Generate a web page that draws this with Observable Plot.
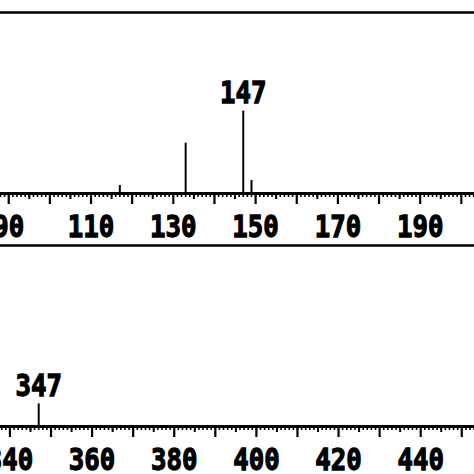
<!DOCTYPE html>
<html>
<head>
<meta charset="utf-8">
<script src="https://cdn.jsdelivr.net/npm/d3@7"></script>
<script src="https://cdn.jsdelivr.net/npm/@observablehq/plot@0.6"></script>
<style>
  html, body { margin: 0; padding: 0; background: #fff; overflow: hidden; width: 474px; height: 474px; }
  #chart { position: relative; width: 474px; height: 474px; }
  #chart svg { position: absolute; left: 0; display: block; overflow: visible; background: transparent !important; }
</style>
</head>
<body>
<div id="chart"></div>
<script>
// ---- data (m/z and relative intensity, % of frame height) ----
const topMz = [117, 133, 147, 149];
const topIntensity = [4.4, 27.8, 45.5, 7.2];
const topPeakLabels = [147];

const bottomMz = [347];
const bottomIntensity = [12.5];
const bottomPeakLabels = [347];

// ---- axis ranges and tick labels ----
const topDomain = [88.0, 203.2];
const bottomDomain = [337.7, 453.1];
const topTickLabels = [90, 110, 130, 150, 170, 190];
const bottomTickLabels = [340, 360, 380, 400, 420, 440];

const FONT = "'DejaVu Sans Mono', 'Liberation Mono', monospace";
const CHAR_W = 15.5;

function panel(domain, mz, intensity, peakLabels, tickLabels, marginTop, marginBottom) {
  const lo = Math.floor(domain[0]), hi = Math.ceil(domain[1]);
  const ticks1 = d3.range(lo, hi + 1, 1);
  const ticks5 = ticks1.filter(d => d % 5 === 0 && d % 10 !== 0);
  const ticks10 = ticks1.filter(d => d % 10 === 0);
  const peaks = mz.map((m, i) => ({mz: m, intensity: intensity[i]}));
  const labeled = peaks.filter(p => peakLabels.includes(p.mz));
  const blank = () => "";
  return Plot.plot({
    width: 474,
    height: 237,
    marginLeft: 0,
    marginRight: 0,
    marginTop,
    marginBottom,
    style: {fontFamily: FONT, fontWeight: "bold", background: "transparent", color: "#000", overflow: "visible"},
    x: {domain},
    y: {domain: [0, 100], axis: null},
    marks: [
      Plot.ruleY([100], {stroke: "#000", strokeWidth: 2.5}),
      Plot.axisX(ticks1, {tickSize: 4, tickFormat: blank, label: null, strokeWidth: 1.6}),
      Plot.axisX(ticks5, {tickSize: 6, tickFormat: blank, label: null, strokeWidth: 2}),
      Plot.axisX(ticks10, {tickSize: 11, tickFormat: blank, label: null, strokeWidth: 2.2}),
      Plot.axisX(tickLabels, {tickSize: 0, tickPadding: 21, label: null, fontSize: 31, fontWeight: "bold", fill: "#000"}),
      Plot.ruleY([0], {stroke: "#000", strokeWidth: 3}),
      Plot.ruleX(peaks, {x: "mz", y1: 0, y2: "intensity", stroke: "#000", strokeWidth: 2}),
      Plot.text(labeled, {x: "mz", y: "intensity", text: d => String(d.mz), lineAnchor: "bottom", dy: -8, fontSize: 31, fontWeight: "bold", fill: "#000"})
    ]
  });
}

const root = document.getElementById("chart");
const p1 = panel(topDomain, topMz, topIntensity, topPeakLabels, topTickLabels, 12, 44);
const p2 = panel(bottomDomain, bottomMz, bottomIntensity, bottomPeakLabels, bottomTickLabels, 8, 48);
p1.style.top = "0px";
p2.style.top = "237px";
root.appendChild(p1);
root.appendChild(p2);
// narrow, tall, heavy printer-style digits
for (const t of root.querySelectorAll("text")) {
  const s = t.textContent.trim();
  if (!s) continue;
  t.setAttribute("textLength", s.length * CHAR_W);
  t.setAttribute("lengthAdjust", "spacingAndGlyphs");
  t.setAttribute("stroke", "#000");
  t.setAttribute("stroke-width", "1.3");
}
</script>
</body>
</html>
